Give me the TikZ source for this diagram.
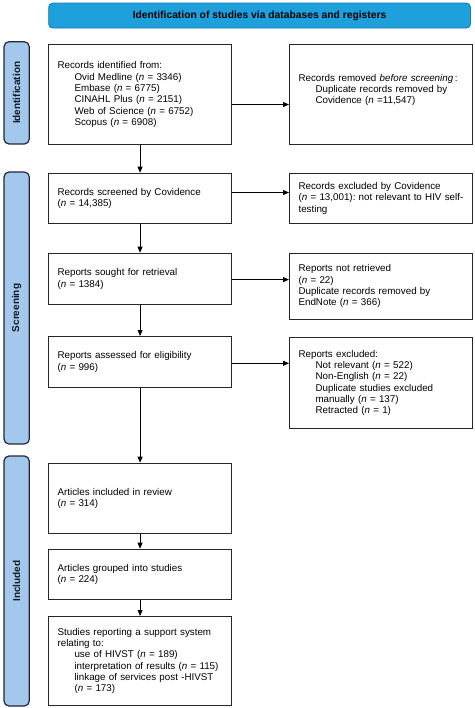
\documentclass[tikz,border=0pt]{standalone}
\usepackage{fontspec}
\setmainfont{Liberation Sans}
\usetikzlibrary{arrows.meta,calc}
\definecolor{bannerblue}{RGB}{30,160,220}
\definecolor{bannerline}{RGB}{20,120,170}
\definecolor{sideblue}{RGB}{163,200,236}
\definecolor{sideline}{RGB}{30,40,60}
\newcommand{\ind}{\hspace*{17pt}}
\frenchspacing
\begin{document}
\begin{tikzpicture}[x=1pt,y=-1pt,
  box/.style={draw=black!85, line width=1.1pt, anchor=north west, align=left,
    inner xsep=9pt, inner ysep=2pt, text width=165pt, minimum width=183pt,
    font=\fontsize{9.8}{11.3}\selectfont},
  arr/.style={line width=0.8pt, -{Triangle[length=6pt,width=5pt]}},
  side/.style={draw=sideline, fill=sideblue, line width=1.2pt, rounded corners=5pt},
  sidetext/.style={font=\bfseries\fontsize{10}{12}\selectfont, rotate=90}
]
\useasboundingbox (0,0) rectangle (474,708);
% banner
\node[draw=bannerline, fill=bannerblue, line width=0.8pt, rounded corners=4pt,
  anchor=north west, minimum width=421.7pt, minimum height=25pt, inner sep=0pt,
  font=\bfseries\fontsize{10.3}{12}\selectfont] (banner) at (48.3,2.7)
  {Identification of studies via databases and registers};
% side bars
\draw[side] (4,41.7) rectangle (29.3,144) node[midway, sidetext, text=sideline!60!black] (sid) {Identification};
\draw[side] (4,172) rectangle (29.3,444) node[midway, sidetext, text=sideline!60!black] (sscr) {Screening};
\draw[side] (4,456) rectangle (29.3,706) node[midway, sidetext, text=sideline!60!black] (sinc) {Included};
% left column
\node[box, minimum height=100pt] (b1) at (48,44)
  {Records identified from:\\
   \ind Ovid Medline (\textit{n} = 3346)\\
   \ind Embase (\textit{n} = 6775)\\
   \ind CINAHL Plus (\textit{n} = 2151)\\
   \ind Web of Science (\textit{n} = 6752)\\
   \ind Scopus (\textit{n} = 6908)};
\node[box, minimum height=50pt] (b2) at (48,172.7)
  {Records screened by Covidence\\(\textit{n} = 14,385)};
\node[box, minimum height=51.3pt] (b3) at (48,252.7)
  {Reports sought for retrieval\\(\textit{n} = 1384)};
\node[box, minimum height=50.7pt] (b4) at (48,336)
  {Reports assessed for eligibility\\(\textit{n} = 996)};
\node[box, minimum height=70pt] (b5) at (48,462.7)
  {Articles included in review\\(\textit{n} = 314)};
\node[box, minimum height=50.6pt] (b6) at (48,548.7)
  {Articles grouped into studies\\(\textit{n} = 224)};
\node[box, minimum height=89pt] (b7) at (48,616)
  {Studies reporting a support system\\
   relating to:\\
   \ind use of HIVST (\textit{n} = 189)\\
   \ind interpretation of results (\textit{n} = 115)\\
   \ind linkage of services post -HIVST\\
   \ind (\textit{n} = 173)};
% right column
\node[box, minimum height=100pt] (r1) at (289,44)
  {Records removed \textit{before screening}\,:\\
   \ind Duplicate records removed by\\
   \ind Covidence (\textit{n} =11,547)\\ ~};
\node[box, minimum height=50pt] (r2) at (289,172.7)
  {Records excluded by Covidence\\
   \makebox[165pt][l]{(\textit{n} = 13,001): not relevant to HIV self-}\\
   testing};
\node[box, minimum height=66.3pt] (r3) at (289,252.7)
  {Reports not retrieved\\
   (\textit{n} = 22)\\
   Duplicate records removed by\\
   EndNote (\textit{n} = 366)};
\node[box, minimum height=91.3pt] (r4) at (289,336.7)
  {Reports excluded:\\
   \ind Not relevant (\textit{n} = 522)\\
   \ind Non-English (\textit{n} = 22)\\
   \ind Duplicate studies excluded\\
   \ind manually (\textit{n} = 137)\\
   \ind Retracted (\textit{n} = 1)};
% vertical arrows
\draw[arr] (b1.south) -- (b2.north);
\draw[arr] (b2.south) -- (b3.north);
\draw[arr] (b3.south) -- (b4.north);
\draw[arr] (b4.south) -- (b5.north);
\draw[arr] (b5.south) -- (b6.north);
\draw[arr] (b6.south) -- (b7.north);
% horizontal arrows
\draw[arr] ([yshift=-10pt]b1.east) -- ([yshift=-10pt]b1.east -| r1.west);
\draw[arr] ([yshift=5.7pt]b2.east) -- ([yshift=5.7pt]b2.east -| r2.west);
\draw[arr] ([yshift=-0.7pt]b3.east) -- ([yshift=-0.7pt]b3.east -| r3.west);
\draw[arr] ([yshift=-1.4pt]b4.east) -- ([yshift=-1.4pt]b4.east -| r4.west);
\end{tikzpicture}
\end{document}
